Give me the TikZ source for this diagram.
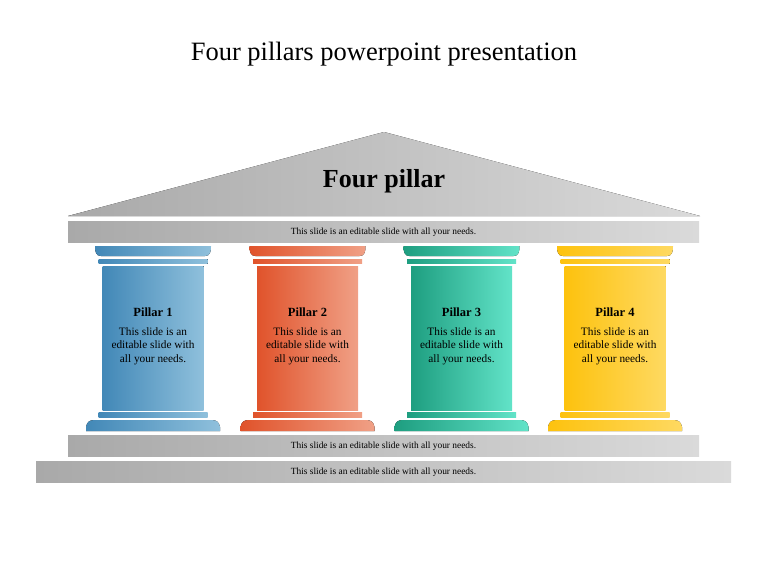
\documentclass[tikz,border=0pt]{standalone}
\usepackage{fontspec}
\setmainfont{Liberation Serif}
\usetikzlibrary{positioning}

\definecolor{roofL}{HTML}{A9A9A9}
\definecolor{roofR}{HTML}{DADADA}
\definecolor{blueL}{HTML}{4288B7}
\definecolor{blueR}{HTML}{8FC0DC}
\definecolor{redL}{HTML}{E0532B}
\definecolor{redR}{HTML}{F0A086}
\definecolor{greenL}{HTML}{1E9E80}
\definecolor{greenR}{HTML}{62E3C8}
\definecolor{yellowL}{HTML}{FDC20E}
\definecolor{yellowR}{HTML}{FED961}

\tikzset{
  beamtext/.style={font=\fontsize{9.4}{10}\selectfont, inner sep=0pt},
  pilltitle/.style={font=\bfseries\fontsize{12.5}{14}\selectfont, inner sep=0pt},
  pilltext/.style={font=\fontsize{11.3}{13.7}\selectfont, align=center, inner sep=0pt}
}

\begin{document}
\begin{tikzpicture}[x=1pt,y=-1pt]
\useasboundingbox (0,0) rectangle (768,576);

% --- Title ---
\node[font=\fontsize{26.5}{30}\selectfont] (title) at (384,54) {Four pillars powerpoint presentation};

% --- Roof ---
\fill[left color=roofL, right color=roofR] (68,216) -- (384,132) -- (700,216) -- cycle;
\node[font=\bfseries\fontsize{26}{30}\selectfont] (roof) at (384,181) {Four pillar};

% --- Beams ---
\foreach \nm/\xa/\ya/\xb/\yb in {beamtop/68/221/699/242, beammid/68/435/699/456, beamlow/36/461/731/482}{
  \fill[left color=roofL, right color=roofR] (\xa,\ya) rectangle (\xb,\yb);
  \node[beamtext] (\nm) at ({(\xa+\xb)/2},{(\ya+\yb)/2+0.5}) {This slide is an editable slide with all your needs.};
}

% --- Pillars ---
\foreach \n/\cx/\colL/\colR in {1/153/blueL/blueR, 2/307.5/redL/redR, 3/461.5/greenL/greenR, 4/615/yellowL/yellowR}{
  % capital
  \fill[left color=\colL, right color=\colR] (\cx-58,246) -- (\cx+58,246)
    .. controls (\cx+58,252) and (\cx+57,256) .. (\cx+52,256) -- (\cx-52,256)
    .. controls (\cx-57,256) and (\cx-58,252) .. cycle;
  \fill[left color=\colL, right color=\colR] (\cx-54.5,259) rectangle (\cx+54.5,263.5);
  % shaft
  \fill[left color=\colL, right color=\colR] (\cx-50.5,266) rectangle (\cx+50.5,410);
  % base
  \fill[left color=\colL, right color=\colR] (\cx-54.5,412.5) rectangle (\cx+54.5,417);
  \fill[left color=\colL, right color=\colR] (\cx-67,431) -- (\cx-67,427)
    .. controls (\cx-66,422) and (\cx-64,420) .. (\cx-58,420) -- (\cx+58,420)
    .. controls (\cx+64,420) and (\cx+66,422) .. (\cx+67,427) -- (\cx+67,431) -- cycle;
  % labels
  \node[pilltitle] (ptitle\n) at (\cx,312.5) {Pillar \n};
  \node[pilltext] (ptext\n) at (\cx,346) {This slide is an\\editable slide with\\all your needs.};
}

\end{tikzpicture}
\end{document}
